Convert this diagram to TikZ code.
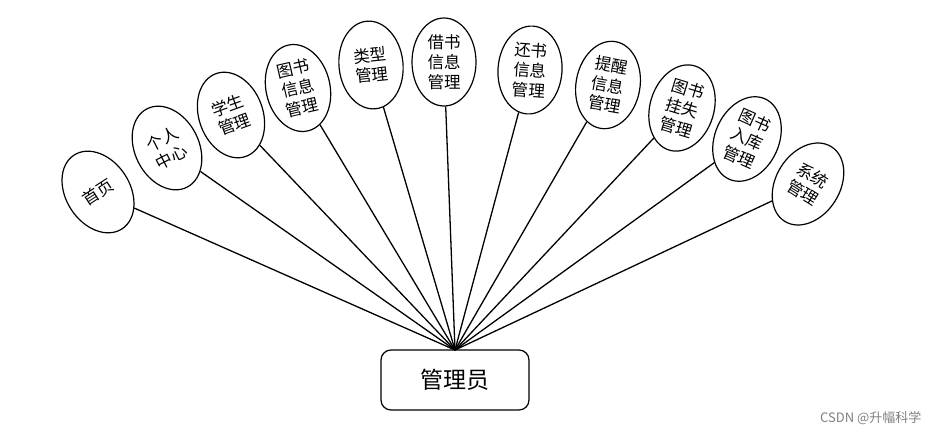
\documentclass[tikz,border=0pt]{standalone}
\usepackage{fontspec}
\newfontfamily\cjk{Noto Sans CJK SC}
\usetikzlibrary{shapes.geometric}
\begin{document}
\begin{tikzpicture}[x=1pt,y=-1pt,
  leaf/.style={ellipse,draw,line width=1.2pt,minimum width=64pt,minimum height=88pt,inner sep=0pt,align=center,font=\cjk\fontsize{16.5}{20}\selectfont},
  conn/.style={line width=1.3pt},
  hubbox/.style={draw,line width=1.2pt,rounded corners=10pt,minimum width=148pt,minimum height=60pt,font=\cjk\fontsize{23}{25}\selectfont}]
\useasboundingbox (0,0) rectangle (937,437);
\node[hubbox] (hub) at (455,380) {管理员};
\coordinate (h) at (455,350);
\foreach \i/\x/\y/\r/\t in {
 1/98/192/33/首页,
 2/167/148/27/个人\\中心,
 3/231/115/20/学生\\管理,
 4/298/88/13/图书\\信息\\管理,
 5/371/65/6/类型\\管理,
 6/444/62/0/借书\\信息\\管理,
 7/530/70/-4/还书\\信息\\管理,
 8/608/85/-10/提醒\\信息\\管理,
 9/682/108/-17/图书\\挂失\\管理,
 10/747/139/-24/图书\\入库\\管理,
 11/808/184/-32/系统\\管理}{
  \node[leaf,rotate=\r] (e\i) at (\x,\y) {\t};
  \draw[conn] (e\i) -- (h);
}
\node[font=\cjk\fontsize{13}{15}\selectfont,text=gray,anchor=east] (wm) at (925,418) {CSDN @升幅科学};
\end{tikzpicture}
\end{document}
